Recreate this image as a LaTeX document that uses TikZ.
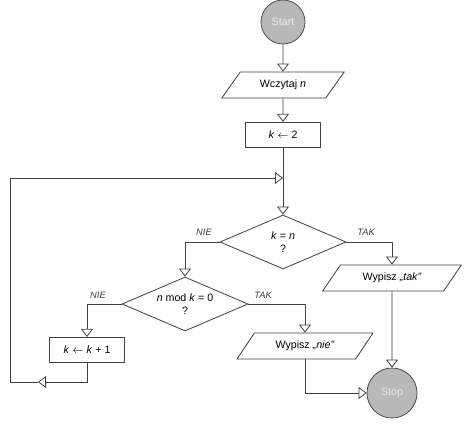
\documentclass[tikz,border=0pt]{standalone}
\usepackage{fontspec}
\setmainfont{Liberation Sans}
\usetikzlibrary{arrows.meta,shapes.geometric}

\begin{document}
\begin{tikzpicture}[x=0.75pt,y=-0.75pt,font=\fontsize{8}{9.5}\selectfont,line width=0.6pt,
	>={Triangle[open,width=9pt,length=6pt]},
	flow/.style={->,draw=black!75},
	terminal/.style={circle,draw=black!70,fill=black!28,text=black!8,inner sep=0pt},
	io/.style={trapezium,trapezium left angle=50,trapezium right angle=130,trapezium stretches=true,draw=black!75,minimum height=19.5pt,inner sep=1pt},
	proc/.style={rectangle,draw=black!75,minimum width=56pt,minimum height=19pt},
	test/.style={diamond,draw=black!75,aspect=2.3,inner sep=0pt,minimum width=94.5pt,minimum height=40.5pt,align=center},
	answer/.style={font=\fontsize{7}{8}\selectfont\itshape,text=black!75}]
	\useasboundingbox (0,0) rectangle (470,431);
	
	\node[terminal,minimum size=33pt] (start) at (283,22) {Start};
	\node[io,minimum width=92pt] (read) at (283,85) {Wczytaj \textit{n}};
	\node[proc] (init) at (283,135) {\textit{k} $\leftarrow$ 2};
	\coordinate (join) at (283,178);
	\node[test] (test1) at (283,242) {\textit{k} = \textit{n}\\?};
	\node[test] (test2) at (185,304) {\textit{n} mod \textit{k} = 0\\?};
	\node[io,minimum width=104pt] (yes) at (392,278) {Wypisz \textit{„tak”}};
	\node[io,minimum width=102pt] (no) at (305,346) {Wypisz \textit{„nie”}};
	\node[proc] (inc) at (87,350) {\textit{k} $\leftarrow$ \textit{k} + 1};
	\node[terminal,minimum size=37.5pt] (stop) at (392,393) {Stop};
	\coordinate (back) at (38,382);
	\coordinate (corner) at (10,382);
	
	\draw[flow] (start) -- (read);
	\draw[flow] (read) -- (init);
	\draw[flow] (init) -- (test1);
	\draw[flow] (test1.east) -| (yes.north);
	\draw[flow] (test1.west) -| (test2.north);
	\draw[flow] (test2.east) -| (no.north);
	\draw[flow] (test2.west) -| (inc.north);
	\draw[flow] (yes) -- (stop);
	\draw[flow] (no.south) |- (stop.west);
	\draw[flow] (inc.south) |- (back);
	\draw[flow] (back) -- (corner) |- (join);
	
	\node[answer] (nie1) at (204,232) {NIE};
	\node[answer] (tak1) at (366,232) {TAK};
	\node[answer] (nie2) at (98,295) {NIE};
	\node[answer] (tak2) at (263,295) {TAK};
\end{tikzpicture}
\end{document}
